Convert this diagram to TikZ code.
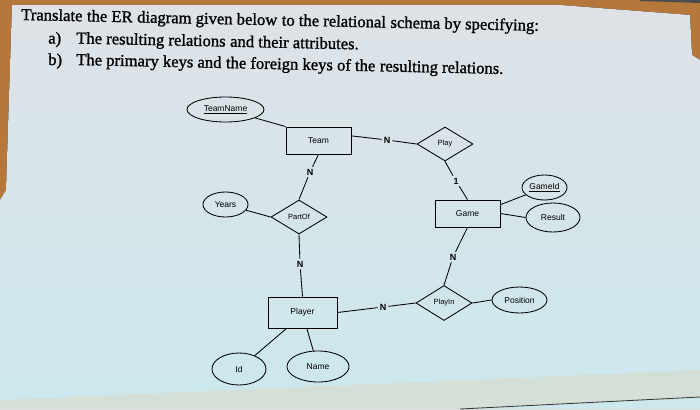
\documentclass[tikz,border=0pt]{standalone}
\usepackage{fontspec}
\setmainfont{Liberation Serif}
\newfontfamily\titlefont{Liberation Serif}[RawFeature={embolden=1.2}]
\newfontfamily\diafont{Liberation Sans}
\usetikzlibrary{shapes.geometric}
\definecolor{papertop}{RGB}{222,226,231}
\definecolor{paperbot}{RGB}{204,232,237}
\definecolor{framec}{RGB}{182,120,58}
\definecolor{bandc}{RGB}{214,220,206}
\begin{document}
\begin{tikzpicture}[x=1pt,y=-1pt,
  titletxt/.style={anchor=base west,inner sep=0pt,rotate=-1.2,text height=11pt,text depth=3pt,font=\titlefont\fontsize{16.6}{19}\selectfont},
  ent/.style={draw,line width=0.85pt,minimum width=65pt,minimum height=27pt,inner sep=1pt,font=\diafont\fontsize{8.5}{10}\selectfont},
  rel/.style={draw,diamond,line width=0.85pt,minimum width=56pt,minimum height=34pt,inner sep=0pt,font=\diafont\fontsize{7.5}{9}\selectfont},
  attr/.style={draw,ellipse,line width=0.85pt,inner sep=0pt,font=\diafont\fontsize{8.5}{10}\selectfont},
  card/.style={inner sep=2pt,font=\diafont\bfseries\fontsize{9}{10}\selectfont},
  conn/.style={line width=0.85pt}]
\useasboundingbox (0,0) rectangle (700,409);
% background frame and paper
\fill[framec] (0,0) rectangle (700,409);
\fill[top color=papertop,bottom color=paperbot]
  (12,5) -- (560,5) -- (690,15) -- (692,55) -- (700,60) -- (700,409) -- (0,409) -- (0,200) -- (6,190) -- cycle;
\fill[black!70] (640,0) -- (700,0) -- (700,3) -- (640,1) -- cycle;
\fill[bandc,opacity=0.7] (0,400) -- (700,370) -- (700,398) -- (460,409) -- (0,409) -- cycle;
\draw[black!80,line width=0.8pt] (460,409) -- (700,397);
% title, set word by word along a slightly tilted baseline
\node[titletxt] (t1a) at (21,20) {Translate};
\node[titletxt] (t1b) at (t1a.base east) {\ the ER};
\node[titletxt] (t1c) at (t1b.base east) {\ diagram given below};
\node[titletxt] (t1d) at (t1c.base east) {\ to the relational};
\node[titletxt] (t1e) at (t1d.base east) {\ schema by specifying:};
\node[titletxt] (ta) at (48,43.5) {a)};
\node[titletxt] (tata) at (76,43.5) {The resulting relations};
\node[titletxt] (tatb) at (tata.base east) {\ and their attributes.};
\node[titletxt] (tb) at (48,65) {b)};
\node[titletxt] (tbta) at (76,65) {The primary keys and};
\node[titletxt] (tbtb) at (tbta.base east) {\ the foreign keys of the};
\node[titletxt] (tbtc) at (tbtb.base east) {\ resulting relations.};
% entities
\node[ent] (team) at (318.5,140.5) {Team};
\node[ent] (game) at (467.5,213.5) {Game};
\node[ent,minimum width=69pt,minimum height=31pt] (player) at (302.5,312.5) {Player};
% relationships
\node[rel] (play) at (445,144) {Play};
\node[rel] (partof) at (299,217) {PartOf};
\node[rel,minimum height=35pt] (playin) at (444,303) {PlayIn};
% attributes
\node[attr,minimum width=77pt,minimum height=25pt] (tname) at (225.5,109.5) {\underline{TeamName}};
\node[attr,minimum width=45pt,minimum height=25pt] (years) at (225.5,204.5) {Years};
\node[attr,minimum width=45pt,minimum height=25pt] (gameid) at (544.5,187.5) {\underline{GameId}};
\node[attr,minimum width=54pt,minimum height=29pt] (result) at (553,217.5) {Result};
\node[attr,minimum width=55pt,minimum height=26pt] (position) at (519.5,300) {Position};
\node[attr,minimum width=54pt,minimum height=32pt] (id) at (239,369) {Id};
\node[attr,minimum width=62pt,minimum height=31pt] (name) at (318,366.5) {Name};
% cardinality labels
\node[card] (n1) at (387,140) {N};
\node[card] (n2) at (310,172) {N};
\node[card] (c1) at (456,181) {1};
\node[card] (n3) at (453,257) {N};
\node[card] (n4) at (300,264) {N};
\node[card] (n5) at (383,307) {N};
% connectors
\draw[conn] (tname) -- (team.north west);
\draw[conn] (team.8) -- (n1);
\draw[conn] (n1) -- (play.west);
\draw[conn] (team.south) -- (n2);
\draw[conn] (n2) -- (partof.north);
\draw[conn] (years) -- (partof.west);
\draw[conn] (play.south) -- (c1);
\draw[conn] (c1) -- (game.north);
\draw[conn] (game.15) -- (gameid);
\draw[conn] (game.east) -- (result.west);
\draw[conn] (game.south) -- (n3);
\draw[conn] (n3) -- (playin.north);
\draw[conn] (playin.east) -- (position.west);
\draw[conn] (partof.south) -- (n4);
\draw[conn] (n4) -- (player.north);
\draw[conn] (player.east) -- (n5);
\draw[conn] (n5) -- (playin.west);
\draw[conn] (player.-135) -- (id);
\draw[conn] (player.-75) -- (name);
\end{tikzpicture}
\end{document}
